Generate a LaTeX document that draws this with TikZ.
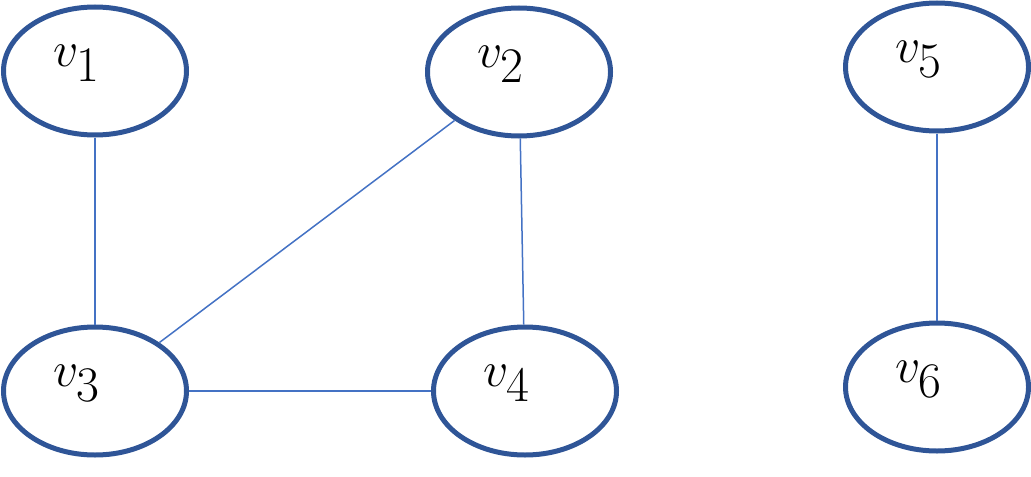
\documentclass[tikz,border=0pt]{standalone}
\usepackage{amsmath}
\usepackage{xcolor}
\usetikzlibrary{shapes.geometric}
\definecolor{rimblue}{HTML}{2F5597}
\definecolor{edgeblue}{HTML}{4472C4}

\begin{document}
\begin{tikzpicture}[x=0.5pt, y=-0.5pt, line width=0.75pt,
		vert/.style={ellipse, draw=rimblue, line width=2.5pt,
			minimum width=91.5pt, minimum height=64pt, inner sep=0pt},
		vlabel/.style={font=\fontsize{35}{40}\selectfont, xshift=-9pt, yshift=4pt}]
		\useasboundingbox (0, 0) rectangle (1031, 476);

		\node[vert, label={[vlabel]center:$v_1$}] (v1) at (95, 71) {};
		\node[vert, label={[vlabel]center:$v_2$}] (v2) at (519, 72) {};
		\node[vert, label={[vlabel]center:$v_5$}] (v5) at (937, 67) {};

		\node[vert, label={[vlabel]center:$v_3$}] (v3) at (95, 391) {};
		\node[vert, label={[vlabel]center:$v_4$}] (v4) at (525, 391) {};
		\node[vert, label={[vlabel]center:$v_6$}] (v6) at (937, 387) {};

		\foreach \a/\b in {1/3, 2/3, 2/4, 3/4, 5/6} {
				\draw[edgeblue] (v\a) -- (v\b);
			}
	\end{tikzpicture}
\end{document}
